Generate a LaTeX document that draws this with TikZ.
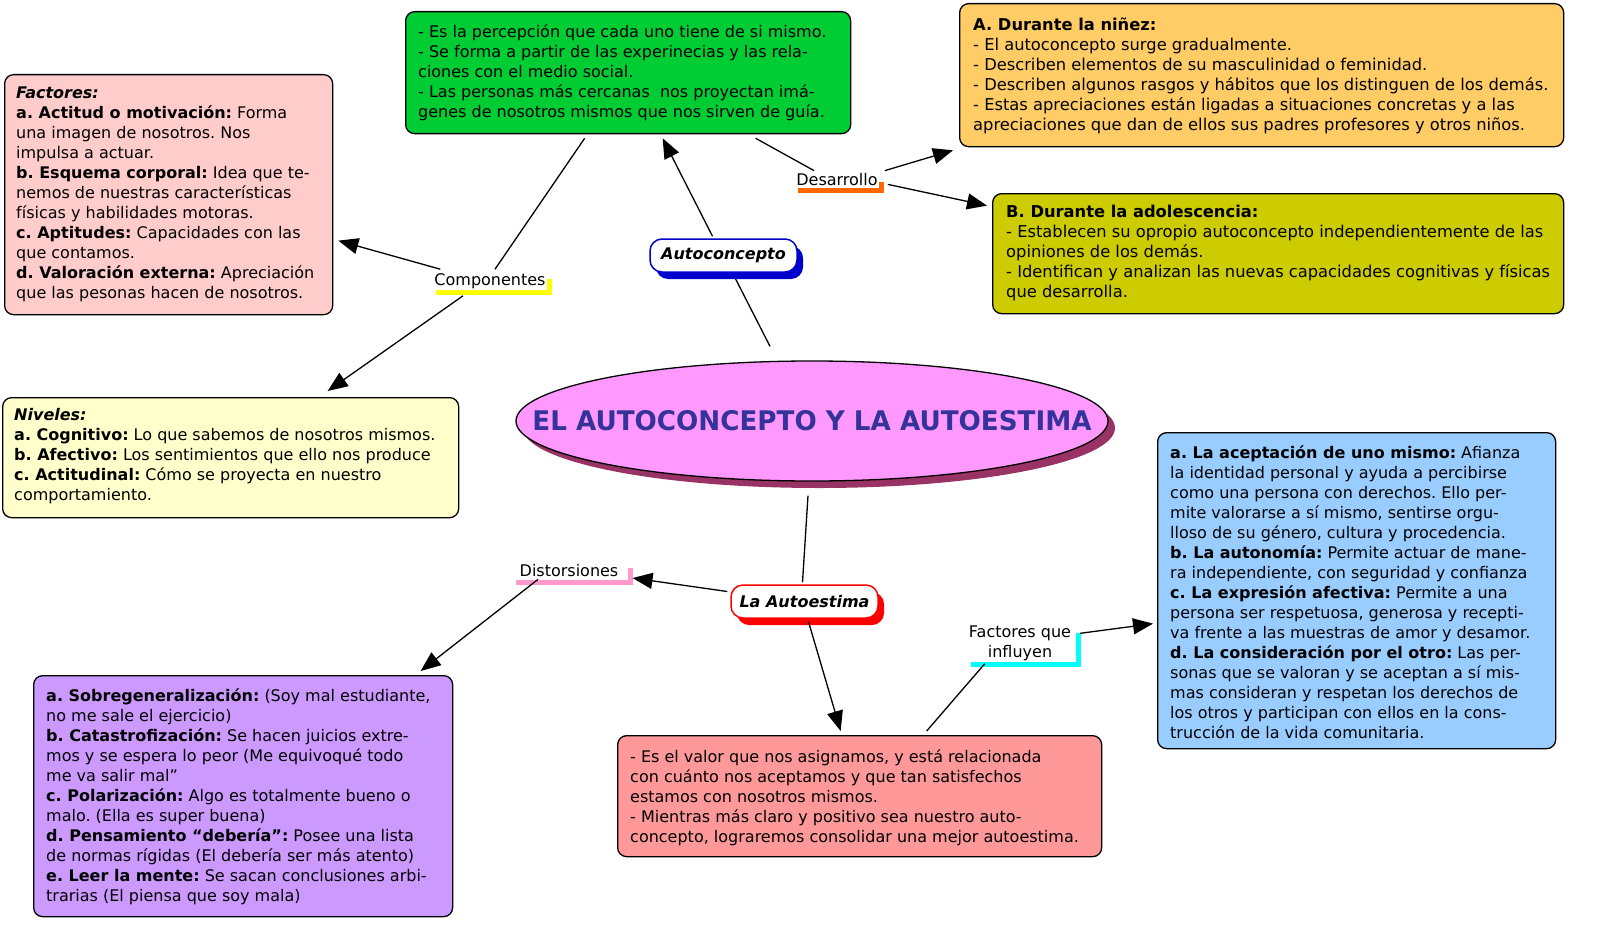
\documentclass[tikz,border=0pt]{standalone}
\usepackage{fontspec}
\setmainfont{DejaVu Sans}
\newfontfamily\titlefont[FakeStretch=0.97]{DejaVu Sans}
\usetikzlibrary{shapes.geometric,arrows.meta,shadows}
\pgfdeclarelayer{bg}
\pgfsetlayers{bg,main}
\definecolor{cpink}{HTML}{FFCCCC}
\definecolor{cgreen}{HTML}{00CC33}
\definecolor{corange}{HTML}{FFCC66}
\definecolor{colive}{HTML}{CCCC00}
\definecolor{cyel}{HTML}{FFFFCC}
\definecolor{cblu}{HTML}{99CCFF}
\definecolor{cpurp}{HTML}{CC99FF}
\definecolor{csalm}{HTML}{FF9999}
\definecolor{cell}{HTML}{FF99FF}
\definecolor{cellsh}{HTML}{993366}
\definecolor{ctitle}{HTML}{333399}
\definecolor{cconblue}{HTML}{0000CC}
\definecolor{cconred}{HTML}{FF0000}
\definecolor{bryellow}{HTML}{FFFF00}
\definecolor{brorange}{HTML}{FF6600}
\definecolor{brpink}{HTML}{FF99CC}
\definecolor{brcyan}{HTML}{00FFFF}
\frenchspacing
\tikzset{
  box/.style={draw=black, line width=1.3pt, rounded corners=9pt, anchor=north west, inner sep=0pt},
  txt/.style={anchor=north west, align=left, inner sep=0pt, font=\fontsize{16}{20}\selectfont},
  ttxt/.style={anchor=north west, align=left, inner sep=0pt, font=\fontsize{16.3}{20}\selectfont},
  lbl/.style={font=\fontsize{16}{20}\selectfont, inner xsep=3pt, inner ysep=2pt, align=center},
  brk/.style={line width=5pt},
  concept/.style={draw, line width=1.5pt, fill=white, rounded corners=12pt, minimum width=147pt, minimum height=33pt, inner sep=0pt, font=\bfseries\itshape\fontsize{16}{19}\selectfont},
  ln/.style={line width=1.3pt},
  arr/.style={line width=1.3pt, -{Triangle[length=20pt,width=16pt]}}
}
\begin{document}
\begin{tikzpicture}[x=1pt,y=-1pt]
\begin{pgfonlayer}{bg}
\fill[white] (0,0) rectangle (1600,939);
\end{pgfonlayer}
\useasboundingbox (0,0) rectangle (1600,939);

% boxes
\node[box, fill=cpink, minimum width=328pt, minimum height=240pt] (fact) at (4,74) {};
\node[txt] (factT) at (16,87) {\textbf{\textit{Factores:}}\\
\textbf{a. Actitud o motivación:} Forma\\
una imagen de nosotros. Nos\\
impulsa a actuar.\\
\textbf{b. Esquema corporal:} Idea que te-\\
nemos de nuestras características\\
físicas y habilidades motoras.\\
\textbf{c. Aptitudes:} Capacidades con las\\
que contamos.\\
\textbf{d. Valoración externa:} Apreciación\\
que las pesonas hacen de nosotros.};

\node[box, fill=cgreen, minimum width=445pt, minimum height=122pt] (green) at (405,11) {};
\node[txt] (greenT) at (418,25) {- Es la percepción que cada uno tiene de si mismo.\\
- Se forma a partir de las experinecias y las rela-\\
ciones con el medio social.\\
- Las personas más cercanas ~nos proyectan imá-\\
genes de nosotros mismos que nos sirven de guía.};

\node[box, fill=corange, minimum width=604pt, minimum height=143pt] (nino) at (959,3) {};
\node[ttxt] (ninoT) at (973,18) {\textbf{A. Durante la niñez:}\\
- El autoconcepto surge gradualmente.\\
- Describen elementos de su masculinidad o feminidad.\\
- Describen algunos rasgos y hábitos que los distinguen de los demás.\\
- Estas apreciaciones están ligadas a situaciones concretas y a las\\
apreciaciones que dan de ellos sus padres profesores y otros niños.};

\node[box, fill=colive, minimum width=571pt, minimum height=120pt] (adol) at (992,193) {};
\node[ttxt] (adolT) at (1006,205) {\textbf{B. Durante la adolescencia:}\\
- Establecen su opropio autoconcepto independientemente de las\\
opiniones de los demás.\\
- Identifican y analizan las nuevas capacidades cognitivas y físicas\\
que desarrolla.};

\node[box, fill=cyel, minimum width=456pt, minimum height=120pt] (nivel) at (2,397) {};
\node[txt] (nivelT) at (14,408) {\textbf{\textit{Niveles:}}\\
\textbf{a. Cognitivo:} Lo que sabemos de nosotros mismos.\\
\textbf{b. Afectivo:} Los sentimientos que ello nos produce\\
\textbf{c. Actitudinal:} Cómo se proyecta en nuestro\\
comportamiento.};

\node[box, fill=cblu, minimum width=398pt, minimum height=316pt] (blue) at (1157,432) {};
\node[txt] (blueT) at (1170,445) {\textbf{a. La aceptación de uno mismo:} Afianza\\
la identidad personal y ayuda a percibirse\\
como una persona con derechos. Ello per-\\
mite valorarse a sí mismo, sentirse orgu-\\
lloso de su género, cultura y procedencia.\\
\textbf{b. La autonomía:} Permite actuar de mane-\\
ra independiente, con seguridad y confianza\\
\textbf{c. La expresión afectiva:} Permite a una\\
persona ser respetuosa, generosa y recepti-\\
va frente a las muestras de amor y desamor.\\
\textbf{d. La consideración por el otro:} Las per-\\
sonas que se valoran y se aceptan a sí mis-\\
mas consideran y respetan los derechos de\\
los otros y participan con ellos en la cons-\\
trucción de la vida comunitaria.};

\node[box, fill=cpurp, minimum width=419pt, minimum height=241pt] (purp) at (33,675) {};
\node[txt] (purpT) at (46,688) {\textbf{a. Sobregeneralización:} (Soy mal estudiante,\\
no me sale el ejercicio)\\
\textbf{b. Catastrofización:} Se hacen juicios extre-\\
mos y se espera lo peor (Me equivoqué todo\\
me va salir mal”\\
\textbf{c. Polarización:} Algo es totalmente bueno o\\
malo. (Ella es super buena)\\
\textbf{d. Pensamiento “debería”:} Posee una lista\\
de normas rígidas (El debería ser más atento)\\
\textbf{e. Leer la mente:} Se sacan conclusiones arbi-\\
trarias (El piensa que soy mala)};

\node[box, fill=csalm, minimum width=484pt, minimum height=121pt] (salm) at (617,735) {};
\node[txt] (salmT) at (630,749) {- Es el valor que nos asignamos, y está relacionada\\
con cuánto nos aceptamos y que tan satisfechos\\
estamos con nosotros mismos.\\
- Mientras más claro y positivo sea nuestro auto-\\
concepto, lograremos consolidar una mejor autoestima.};

% central ellipse
\node[ellipse, draw=black, line width=1.3pt, fill=cell, minimum width=592pt, minimum height=120pt, inner sep=0pt,
  drop shadow={shadow xshift=7pt, shadow yshift=-7pt, fill=cellsh, opacity=1}] (title) at (812,421) {};
\node[font=\titlefont\bfseries\fontsize{27}{30}\selectfont, text=ctitle, inner sep=0pt] (titleT) at (title.center) {EL AUTOCONCEPTO Y LA AUTOESTIMA};

% concepts
\node[concept, draw=cconblue, drop shadow={shadow xshift=6pt, shadow yshift=-7pt, fill=cconblue, opacity=1}] (auto) at (723.5,255.5) {Autoconcepto};
\node[concept, draw=cconred, drop shadow={shadow xshift=6pt, shadow yshift=-7pt, fill=cconred, opacity=1}] (autoe) at (804.5,601.5) {La Autoestima};

% linking labels
\node[lbl] (comp) at (490,281) {Componentes};
\node[lbl] (desa) at (837,180) {Desarrollo};
\node[lbl] (dist) at (569,571) {Distorsiones};
\node[lbl] (fact2) at (1020,643) {Factores que\\influyen};

\begin{pgfonlayer}{bg}
\draw[brk, bryellow] ([xshift=5pt,yshift=-2pt]comp.south west) -- ([xshift=1pt,yshift=-2pt]comp.south east) -- ([xshift=1pt,yshift=-8pt]comp.north east);
\draw[brk, brorange] ([xshift=5pt,yshift=-2pt]desa.south west) -- ([xshift=1pt,yshift=-2pt]desa.south east) -- ([xshift=1pt,yshift=-10pt]desa.north east);
\draw[brk, brpink] ([xshift=0pt,yshift=-3pt]dist.south west) -- ([xshift=9pt,yshift=-3pt]dist.south east) -- ([xshift=9pt,yshift=-5pt]dist.north east);
\draw[brk, brcyan] ([xshift=5pt,yshift=-2pt]fact2.south west) -- ([xshift=4pt,yshift=-2pt]fact2.south east) -- ([xshift=4pt,yshift=-10pt]fact2.north east);
\end{pgfonlayer}

% connectors
\draw[ln] ([xshift=-42pt,yshift=14pt]title.north) -- ([xshift=12pt,yshift=-6pt]auto.south);
\draw[arr] ([xshift=-11pt,yshift=2pt]auto.north) -- ([xshift=34.5pt,yshift=-4pt]green.south);
\draw[ln] ([xshift=-43.5pt,yshift=-4pt]green.south) -- ([xshift=5pt,yshift=2pt]comp.north);
\draw[arr] ([xshift=9pt,yshift=2pt]comp.north west) -- ([xshift=5pt,yshift=-46pt]fact.east);
\draw[arr] ([xshift=-27pt,yshift=-5pt]comp.south) -- ([xshift=97pt,yshift=6pt]nivel.north);
\draw[ln] ([xshift=127.5pt,yshift=-4pt]green.south) -- ([xshift=-23pt,yshift=1pt]desa.north);
\draw[arr] ([xshift=4pt,yshift=1pt]desa.north east) -- ([xshift=-6pt,yshift=-3pt]nino.south west);
\draw[arr] ([xshift=7pt,yshift=4pt]desa.south east) -- ([xshift=-5pt,yshift=48pt]adol.west);
\draw[ln] ([xshift=-4pt,yshift=-14pt]title.south) -- ([xshift=-2pt,yshift=2pt]autoe.north);
\draw[arr] ([xshift=-3pt,yshift=10pt]autoe.west) -- ([xshift=11pt,yshift=-7pt]dist.east);
\draw[arr] ([xshift=-31pt,yshift=0pt]dist.south) -- ([xshift=177.5pt,yshift=4pt]purp.north);
\draw[arr] ([xshift=4pt,yshift=-3pt]autoe.south) -- ([xshift=-19pt,yshift=4pt]salm.north);
\draw[ln] ([xshift=67pt,yshift=4pt]salm.north) -- ([xshift=19pt,yshift=-1pt]fact2.south west);
\draw[arr] ([xshift=6pt,yshift=-10pt]fact2.north east) -- ([xshift=-4pt,yshift=-33pt]blue.west);
\end{tikzpicture}
\end{document}
